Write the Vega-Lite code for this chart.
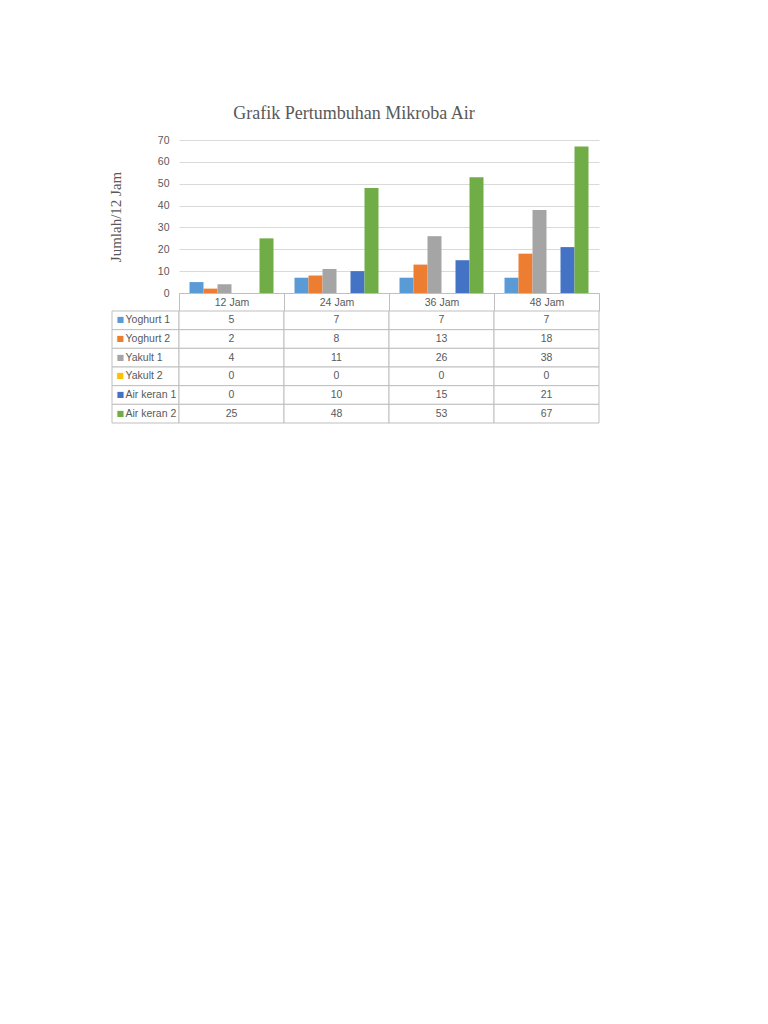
{
  "$schema": "https://vega.github.io/schema/vega-lite/v6.json",
  "description": "Grafik Pertumbuhan Mikroba Air: grouped bars with an Excel-style data table underneath.",
  "padding": {"left": 108, "top": 105, "right": 10, "bottom": 10},
  "title": {
    "text": "Grafik Pertumbuhan Mikroba Air",
    "font": "Liberation Serif",
    "fontSize": 18,
    "fontWeight": "normal",
    "color": "#595959",
    "anchor": "middle",
    "offset": 12
  },
  "datasets": {
    "tumbuh": [
      {"jam": "12 Jam", "seri": "Yoghurt 1", "nilai": 5},
      {"jam": "24 Jam", "seri": "Yoghurt 1", "nilai": 7},
      {"jam": "36 Jam", "seri": "Yoghurt 1", "nilai": 7},
      {"jam": "48 Jam", "seri": "Yoghurt 1", "nilai": 7},
      {"jam": "12 Jam", "seri": "Yoghurt 2", "nilai": 2},
      {"jam": "24 Jam", "seri": "Yoghurt 2", "nilai": 8},
      {"jam": "36 Jam", "seri": "Yoghurt 2", "nilai": 13},
      {"jam": "48 Jam", "seri": "Yoghurt 2", "nilai": 18},
      {"jam": "12 Jam", "seri": "Yakult 1", "nilai": 4},
      {"jam": "24 Jam", "seri": "Yakult 1", "nilai": 11},
      {"jam": "36 Jam", "seri": "Yakult 1", "nilai": 26},
      {"jam": "48 Jam", "seri": "Yakult 1", "nilai": 38},
      {"jam": "12 Jam", "seri": "Yakult 2", "nilai": 0},
      {"jam": "24 Jam", "seri": "Yakult 2", "nilai": 0},
      {"jam": "36 Jam", "seri": "Yakult 2", "nilai": 0},
      {"jam": "48 Jam", "seri": "Yakult 2", "nilai": 0},
      {"jam": "12 Jam", "seri": "Air keran 1", "nilai": 0},
      {"jam": "24 Jam", "seri": "Air keran 1", "nilai": 10},
      {"jam": "36 Jam", "seri": "Air keran 1", "nilai": 15},
      {"jam": "48 Jam", "seri": "Air keran 1", "nilai": 21},
      {"jam": "12 Jam", "seri": "Air keran 2", "nilai": 25},
      {"jam": "24 Jam", "seri": "Air keran 2", "nilai": 48},
      {"jam": "36 Jam", "seri": "Air keran 2", "nilai": 53},
      {"jam": "48 Jam", "seri": "Air keran 2", "nilai": 67}
    ]
  },
  "data": {"name": "tumbuh"},
  "columns": 2,
  "spacing": {"row": 18, "column": 0},
  "bounds": "flush",
  "concat": [
    {
      "data": {"values": []},
      "width": 67,
      "height": 153,
      "mark": "point"
    },
    {
      "width": 420,
      "height": 153,
      "mark": {"type": "bar"},
      "encoding": {
        "x": {
          "field": "jam",
          "type": "nominal",
          "sort": ["12 Jam", "24 Jam", "36 Jam", "48 Jam"],
          "scale": {"paddingInner": 0, "paddingOuter": 0},
          "axis": {
            "title": null,
            "labelAngle": 0,
            "tickBand": "extent",
            "tickSize": 18,
            "tickColor": "#bfbfbf",
            "domainColor": "#bfbfbf",
            "labelBaseline": "middle",
            "labelPadding": -9
          }
        },
        "xOffset": {
          "field": "seri",
          "type": "nominal",
          "sort": ["Yoghurt 1", "Yoghurt 2", "Yakult 1", "Yakult 2", "Air keran 1", "Air keran 2"],
          "scale": {"paddingInner": 0, "paddingOuter": 0.75}
        },
        "y": {
          "field": "nilai",
          "type": "quantitative",
          "scale": {"domain": [0, 70]},
          "axis": {
            "title": "Jumlah/12 Jam",
            "values": [0, 10, 20, 30, 40, 50, 60, 70],
            "grid": true,
            "gridColor": "#d9d9d9",
            "domain": false,
            "ticks": false,
            "labelPadding": 10,
            "titleFont": "Liberation Serif",
            "titleFontSize": 15,
            "titleFontWeight": "normal",
            "titleColor": "#595959",
            "titlePadding": 34
          }
        },
        "color": {
          "field": "seri",
          "type": "nominal",
          "scale": {
            "domain": ["Yoghurt 1", "Yoghurt 2", "Yakult 1", "Yakult 2", "Air keran 1", "Air keran 2"],
            "range": ["#5b9bd5", "#ed7d31", "#a5a5a5", "#ffc000", "#4472c4", "#70ad47"]
          },
          "legend": null
        }
      }
    },
    {
      "width": 67,
      "height": 112,
      "transform": [
        {"aggregate": [{"op": "count", "as": "n"}], "groupby": ["seri"]}
      ],
      "encoding": {
        "y": {
          "field": "seri",
          "type": "nominal",
          "sort": ["Yoghurt 1", "Yoghurt 2", "Yakult 1", "Yakult 2", "Air keran 1", "Air keran 2"],
          "scale": {"paddingInner": 0, "paddingOuter": 0},
          "axis": null
        }
      },
      "layer": [
        {"mark": {"type": "rect", "fill": "white", "stroke": "#bfbfbf", "strokeWidth": 1}},
        {
          "mark": {"type": "text", "text": "■", "align": "left", "dx": -29, "font": "DejaVu Sans", "fontSize": 8},
          "encoding": {
            "color": {
              "field": "seri",
              "type": "nominal",
              "scale": {
                "domain": ["Yoghurt 1", "Yoghurt 2", "Yakult 1", "Yakult 2", "Air keran 1", "Air keran 2"],
                "range": ["#5b9bd5", "#ed7d31", "#a5a5a5", "#ffc000", "#4472c4", "#70ad47"]
              },
              "legend": null
            }
          }
        },
        {
          "mark": {"type": "text", "align": "left", "dx": -20},
          "encoding": {"text": {"field": "seri", "type": "nominal"}}
        }
      ]
    },
    {
      "width": 420,
      "height": 112,
      "encoding": {
        "x": {
          "field": "jam",
          "type": "nominal",
          "sort": ["12 Jam", "24 Jam", "36 Jam", "48 Jam"],
          "scale": {"paddingInner": 0, "paddingOuter": 0},
          "axis": null
        },
        "y": {
          "field": "seri",
          "type": "nominal",
          "sort": ["Yoghurt 1", "Yoghurt 2", "Yakult 1", "Yakult 2", "Air keran 1", "Air keran 2"],
          "scale": {"paddingInner": 0, "paddingOuter": 0},
          "axis": null
        }
      },
      "layer": [
        {"mark": {"type": "rect", "fill": "white", "stroke": "#bfbfbf", "strokeWidth": 1}},
        {
          "mark": {"type": "text"},
          "encoding": {"text": {"field": "nilai", "type": "quantitative"}}
        }
      ]
    }
  ],
  "resolve": {"scale": {"x": "independent", "y": "independent", "color": "shared"}},
  "config": {
    "view": {"stroke": null},
    "axis": {
      "labelFont": "Liberation Sans",
      "labelFontSize": 10.5,
      "labelColor": "#595959"
    },
    "text": {"font": "Liberation Sans", "fontSize": 10.5, "color": "#595959"}
  }
}
